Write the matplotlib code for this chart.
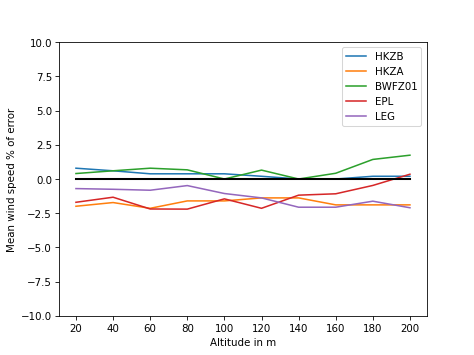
import matplotlib
matplotlib.use("Agg")
import matplotlib.pyplot as plt

# --- dati ---
altitudes = [20, 40, 60, 80, 100, 120, 140, 160, 180, 200]
hkzb = [0.79, 0.6, 0.38, 0.38, 0.38, 0.2, 0.0, 0.0, 0.2, 0.2]
hkza = [-1.99, -1.72, -2.14, -1.6, -1.6, -1.38, -1.38, -1.89, -1.89, -1.89]
bwfz01 = [0.4, 0.6, 0.79, 0.67, 0.0, 0.65, 0.0, 0.42, 1.43, 1.74]
epl = [-1.7, -1.33, -2.19, -2.2, -1.45, -2.14, -1.18, -1.08, -0.47, 0.35]
leg = [-0.7, -0.75, -0.82, -0.48, -1.06, -1.38, -2.06, -2.06, -1.62, -2.1]
zero_line = [0] * len(altitudes)

fig, ax = plt.subplots(figsize=(6.4, 4.8), dpi=74.07)

ax.plot(altitudes, hkzb, label='HKZB')
ax.plot(altitudes, hkza, label='HKZA')
ax.plot(altitudes, bwfz01, label='BWFZ01')
ax.plot(altitudes, epl, label='EPL')
ax.plot(altitudes, leg, label='LEG')
ax.plot(altitudes, zero_line, color='black', linewidth=2)

ax.set_ylim(-10, 10)
ax.set_xticks(altitudes)
ax.set_xlabel('Altitude in m')
ax.set_ylabel('Mean wind speed % of error')
ax.legend(loc='upper right')

plt.savefig('out.png', dpi=74.07)
plt.close()
